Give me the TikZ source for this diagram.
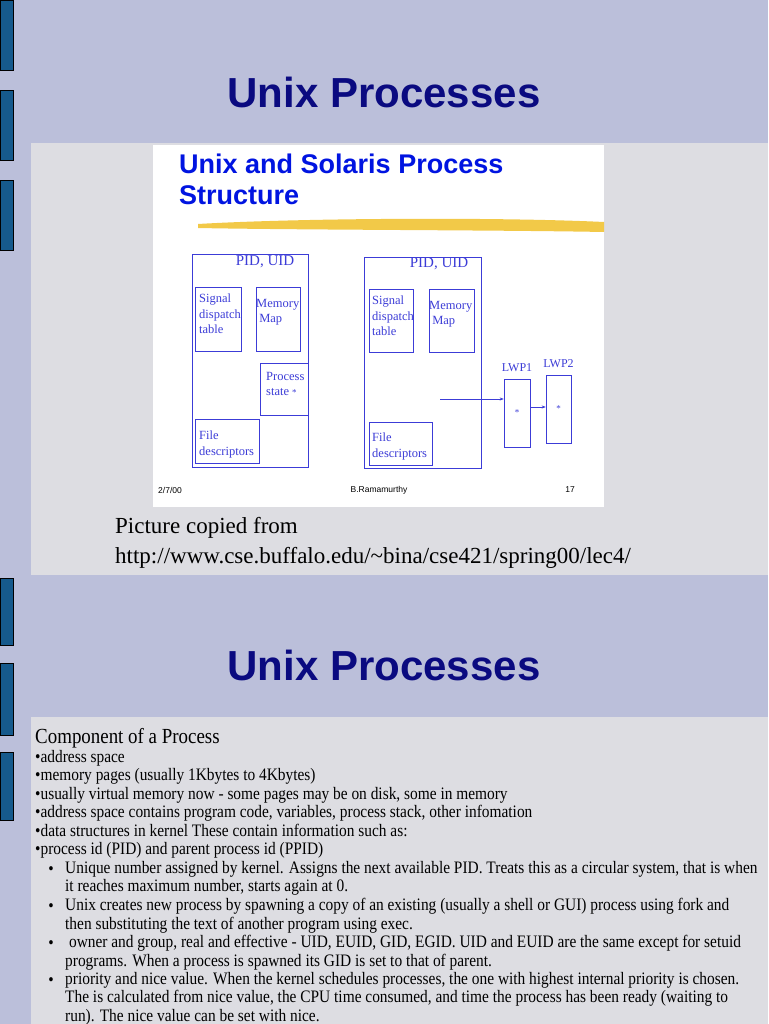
\documentclass[tikz,border=0pt]{standalone}
\usepackage{fontspec}
\setmainfont{Liberation Serif}
\newfontfamily\headfont{Liberation Sans}
\newfontfamily\bodyfont[FakeStretch=0.88]{Liberation Serif}
\usetikzlibrary{arrows.meta,positioning,calc}

\definecolor{slidebg}{RGB}{187,191,218}
\definecolor{panelbg}{RGB}{221,221,226}
\definecolor{tabblue}{RGB}{22,90,140}
\definecolor{navy}{RGB}{10,10,128}
\definecolor{picblue}{RGB}{0,20,225}
\definecolor{boxblue}{RGB}{60,60,215}
\definecolor{marker}{RGB}{240,192,40}

\tikzset{
  tab/.style={draw=black,fill=tabblue,line width=0.6pt},
  procbox/.style={draw=boxblue,line width=0.6pt},
  boxtext/.style={font=\fontsize{12.5}{15.5}\selectfont,text=boxblue,align=left,anchor=north west,inner sep=0pt},
  bodyline/.style={font=\bodyfont\fontsize{17.5}{18.5}\selectfont,anchor=base west,inner sep=0pt},
  subline/.style={font=\bodyfont\fontsize{17.5}{18.5}\selectfont,anchor=north west,inner sep=0pt,align=left},
  titlefont/.style={font=\headfont\bfseries\fontsize{42}{46}\selectfont,text=navy},
}

\begin{document}
\begin{tikzpicture}[x=1pt,y=-1pt]
	\useasboundingbox (0,0) rectangle (768,1024);
	\fill[slidebg] (0,0) rectangle (768,1024);
	% tabs on the left edge
	\foreach \ya/\yb in {0/70,90/160,180/250,578/645,663/735,752/820}
		\draw[tab] (0,\ya) rectangle (13,\yb);

	% first slide
	\node[titlefont] (title1) at (384,92) {Unix Processes};
	\fill[panelbg] (31,143) rectangle (768,575);
	\fill[white] (153,145) rectangle (604,507);
	\node[font=\headfont\bfseries\fontsize{27}{31}\selectfont,text=picblue,align=left,anchor=north west,inner sep=0pt] (pictitle) at (179,154) {Unix and Solaris Process\\Structure};
	\fill[marker,opacity=0.85] (198,224) .. controls (300,218) and (500,217) .. (604,222) -- (604,232) .. controls (500,230) and (300,230) .. (198,228) -- cycle;

	% left process
	\draw[procbox] (192,254) rectangle (308,467);
	\node[font=\fontsize{15}{17}\selectfont,text=boxblue] (pid1) at (265,262) {PID, UID};
	\draw[procbox] (195,287) rectangle (241,351);
	\node[boxtext] (sig1) at (199,294) {Signal\\dispatch\\table};
	\draw[procbox] (256,287) rectangle (300,351);
	\node[boxtext] (mem1) at (256,299) {Memory\\\ Map};
	\draw[procbox] (260,363) rectangle (308,415);
	\node[boxtext] (state1) at (266,372) {Process\\state \small *};
	\draw[procbox] (195,419) rectangle (259,463);
	\node[boxtext] (file1) at (199,431) {File\\descriptors};

	% right process
	\draw[procbox] (364,257) rectangle (481,468);
	\node[font=\fontsize{15}{17}\selectfont,text=boxblue] (pid2) at (439,264) {PID, UID};
	\draw[procbox] (369,289) rectangle (413,352);
	\node[boxtext] (sig2) at (372,296) {Signal\\dispatch\\table};
	\draw[procbox] (429,289) rectangle (474,352);
	\node[boxtext] (mem2) at (429,301) {Memory\\\ Map};
	\draw[procbox] (369,422) rectangle (432,465);
	\node[boxtext] (file2) at (372,433) {File\\descriptors};

	% lightweight processes
	\node[procbox,minimum width=26pt,minimum height=68pt,inner sep=0pt,text=boxblue,font=\small] (lwp1) at (517,413) {*};
	\node[procbox,minimum width=25pt,minimum height=68pt,inner sep=0pt,text=boxblue,font=\small] (lwp2) at (558.5,409) {*};
	\node[font=\fontsize{12}{14}\selectfont,text=boxblue,above=3pt of lwp1] {LWP1};
	\node[font=\fontsize{12}{14}\selectfont,text=boxblue,above=3pt of lwp2] {LWP2};
	\coordinate (src) at (440,399);
	\draw[boxblue,-{Stealth[length=4pt]}] (src) -- (src -| lwp1.west);
	\draw[boxblue,-{Stealth[length=4pt]}] ($(lwp1.east)+(0,-6)$) -- ($(lwp2.west)+(0,-2)$);

	% footer of the copied slide
	\node[font=\headfont\fontsize{8.5}{10}\selectfont] (date) at (170,490) {2/7/00};
	\node[font=\headfont\fontsize{8.5}{10}\selectfont] (author) at (379,490) {B.Ramamurthy};
	\node[font=\headfont\fontsize{8.5}{10}\selectfont] (page) at (570,490) {17};

	\node[font=\fontsize{23}{30}\selectfont,align=left,anchor=north west,inner sep=0pt] (source) at (115,517) {Picture copied from\\http://www.cse.buffalo.edu/\textasciitilde bina/cse421/spring00/lec4/};

	% second slide
	\node[titlefont] (title2) at (384,665) {Unix Processes};
	\fill[panelbg] (31,717) rectangle (768,1024);
	\node[bodyline,font=\bodyfont\fontsize{21.5}{22}\selectfont] (comp) at (35,743) {Component of a Process};
	\node[bodyline] (b1) at (35,762) {\textbullet address space};
	\node[bodyline] (b2) at (35,780) {\textbullet memory pages (usually 1Kbytes to 4Kbytes)};
	\node[bodyline] (b3) at (35,799) {\textbullet usually virtual memory now - some pages may be on disk, some in memory};
	\node[bodyline] (b4) at (35,817) {\textbullet address space contains program code, variables, process stack, other infomation};
	\node[bodyline] (b5) at (35,836) {\textbullet data structures in kernel These contain information such as:};
	\node[bodyline] (b6) at (35,854) {\textbullet process id (PID) and parent process id (PPID)};
	\foreach \yy/\txt in {
		861/{Unique number assigned by kernel. Assigns the next available PID. Treats this as a circular system, that is when\\it reaches maximum number, starts again at 0.},
		898/{Unix creates new process by spawning a copy of an existing (usually a shell or GUI) process using fork and\\then substituting the text of another program using exec.},
		935/{\ owner and group, real and effective - UID, EUID, GID, EGID. UID and EUID are the same except for setuid\\programs. When a process is spawned its GID is set to that of parent.},
		972/{priority and nice value. When the kernel schedules processes, the one with highest internal priority is chosen.\\The is calculated from nice value, the CPU time consumed, and time the process has been ready (waiting to\\run). The nice value can be set with nice.}}
	{
		\node[subline] at (65,\yy) {\txt};
		\node[font=\bodyfont\fontsize{17.5}{18.5}\selectfont,anchor=base,inner sep=0pt] at (51,\yy+13) {\textbullet};
	}
\end{tikzpicture}
\end{document}
